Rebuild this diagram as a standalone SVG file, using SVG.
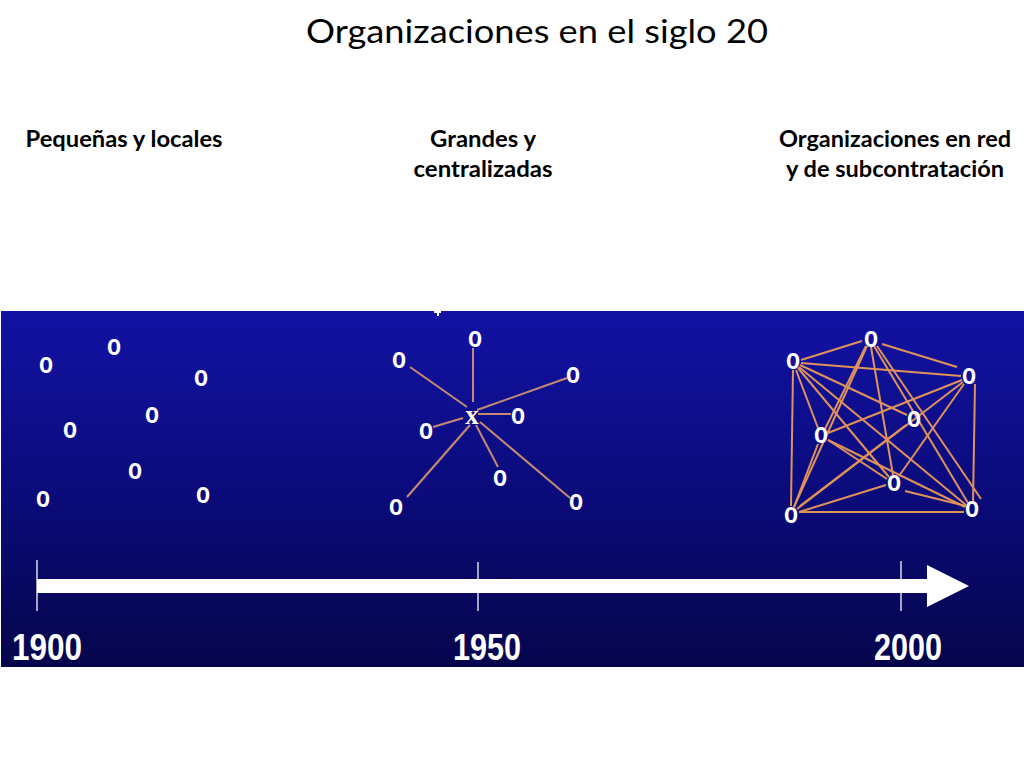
<svg xmlns="http://www.w3.org/2000/svg" width="1024" height="768" viewBox="0 0 1024 768">
<defs>
<linearGradient id="bg" x1="0" y1="0" x2="0" y2="1">
<stop offset="0" stop-color="#1212a4"/>
<stop offset="0.5" stop-color="#0b0b7c"/>
<stop offset="1" stop-color="#05054c"/>
</linearGradient>
<style>
.title{font-family:Lato,"Liberation Sans",sans-serif;font-size:32px;fill:#000;text-anchor:middle}
.lbl{font-family:Lato,"Liberation Sans",sans-serif;font-weight:bold;font-size:23px;fill:#000;text-anchor:middle}
.o{font-family:"Liberation Sans",sans-serif;font-weight:bold;font-size:23px;fill:#fff;text-anchor:middle}
.x{font-family:"Liberation Serif",serif;font-weight:bold;font-size:27px;fill:#fff6e8;text-anchor:middle}
.yr{font-family:"Liberation Sans",sans-serif;font-weight:bold;font-size:37px;fill:#fff;text-anchor:middle}
.star line{stroke:#c58a70;stroke-width:2}
.net line{stroke:#e0925a;stroke-width:2}
.tick{stroke:#d8d8e8;stroke-width:1.5}
</style>
</defs>
<rect x="0" y="0" width="1024" height="768" fill="#fff"/>
<rect x="1" y="311" width="1023" height="356" fill="url(#bg)"/>
<path d="M434 311h7v2h-2v3h-2v-3h-3z" fill="#fff"/>

<text class="title" x="537" y="43" textLength="462" lengthAdjust="spacingAndGlyphs">Organizaciones en el siglo 20</text>
<g id="lbl-1900"><text class="lbl" x="124" y="147" textLength="197" lengthAdjust="spacingAndGlyphs">Pequeñas y locales</text></g>
<g id="lbl-1950"><text class="lbl" x="483" y="147" textLength="106" lengthAdjust="spacingAndGlyphs">Grandes y</text>
<text class="lbl" x="483" y="177" textLength="139" lengthAdjust="spacingAndGlyphs">centralizadas</text></g>
<g id="lbl-2000"><text class="lbl" x="895" y="147" textLength="232" lengthAdjust="spacingAndGlyphs">Organizaciones en red</text>
<text class="lbl" x="895" y="177" textLength="218" lengthAdjust="spacingAndGlyphs">y de subcontratación</text></g>

<g id="connectors">
<g class="star">
<line x1="473" y1="348" x2="473" y2="402"/>
<line x1="410" y1="367" x2="467" y2="407"/>
<line x1="567" y1="378" x2="477" y2="410"/>
<line x1="478" y1="414" x2="511" y2="414"/>
<line x1="433" y1="427" x2="463" y2="418"/>
<line x1="476" y1="425" x2="498" y2="467"/>
<line x1="470" y1="425" x2="407" y2="497"/>
<line x1="480" y1="422" x2="570" y2="498"/>
</g>
<g class="net">
<line x1="862" y1="341" x2="801" y2="360"/>
<line x1="882" y1="344" x2="957" y2="367"/>
<line x1="866" y1="346" x2="825" y2="429"/>
<line x1="867" y1="346" x2="794" y2="507"/>
<line x1="871" y1="347" x2="893" y2="475"/>
<line x1="874" y1="346" x2="968" y2="503"/>
<line x1="877" y1="346" x2="981" y2="499"/>
<line x1="801" y1="363" x2="961" y2="376"/>
<line x1="800" y1="365" x2="907" y2="415"/>
<line x1="796" y1="370" x2="818" y2="428"/>
<line x1="798" y1="368" x2="889" y2="477"/>
<line x1="799" y1="367" x2="966" y2="505"/>
<line x1="793" y1="370" x2="791" y2="506"/>
<line x1="962" y1="380" x2="828" y2="433"/>
<line x1="963" y1="382" x2="797" y2="509"/>
<line x1="964" y1="384" x2="899" y2="476"/>
<line x1="975" y1="384" x2="973" y2="503"/>
<line x1="906" y1="425" x2="800" y2="506"/>
<line x1="828" y1="440" x2="887" y2="479"/>
<line x1="828" y1="440" x2="965" y2="507"/>
<line x1="818" y1="444" x2="794" y2="507"/>
<line x1="886" y1="485" x2="799" y2="512"/>
<line x1="905" y1="491" x2="966" y2="506"/>
<line x1="799" y1="512" x2="964" y2="512"/>
</g>
</g>

<g id="small-nodes">
<g id="s1"><text class="o" transform="translate(46,365) scale(1,1.25)" y="6">o</text></g>
<g id="s2"><text class="o" transform="translate(114,347) scale(1,1.25)" y="6">o</text></g>
<g id="s3"><text class="o" transform="translate(201,378) scale(1,1.25)" y="6">o</text></g>
<g id="s4"><text class="o" transform="translate(152,415) scale(1,1.25)" y="6">o</text></g>
<g id="s5"><text class="o" transform="translate(70,430) scale(1,1.25)" y="6">o</text></g>
<g id="s6"><text class="o" transform="translate(135,471) scale(1,1.25)" y="6">o</text></g>
<g id="s7"><text class="o" transform="translate(43,499) scale(1,1.25)" y="6">o</text></g>
<g id="s8"><text class="o" transform="translate(203,495) scale(1,1.25)" y="6">o</text></g>
</g>

<g id="star-nodes">
<g id="c0"><text class="x" x="472" y="424">x</text></g>
<g id="c1"><text class="o" transform="translate(475,339) scale(1,1.25)" y="6">o</text></g>
<g id="c2"><text class="o" transform="translate(399,360) scale(1,1.25)" y="6">o</text></g>
<g id="c3"><text class="o" transform="translate(573,375) scale(1,1.25)" y="6">o</text></g>
<g id="c4"><text class="o" transform="translate(518,416) scale(1,1.25)" y="6">o</text></g>
<g id="c5"><text class="o" transform="translate(426,431) scale(1,1.25)" y="6">o</text></g>
<g id="c6"><text class="o" transform="translate(500,478) scale(1,1.25)" y="6">o</text></g>
<g id="c7"><text class="o" transform="translate(396,507) scale(1,1.25)" y="6">o</text></g>
<g id="c8"><text class="o" transform="translate(576,502) scale(1,1.25)" y="6">o</text></g>
</g>

<g id="net-nodes">
<g id="nA"><text class="o" transform="translate(871,339) scale(1,1.25)" y="6">o</text></g>
<g id="nB"><text class="o" transform="translate(793,361) scale(1,1.25)" y="6">o</text></g>
<g id="nC"><text class="o" transform="translate(969,376) scale(1,1.25)" y="6">o</text></g>
<g id="nD"><text class="o" transform="translate(914,419) scale(1,1.25)" y="6">o</text></g>
<g id="nE"><text class="o" transform="translate(821,435) scale(1,1.25)" y="6">o</text></g>
<g id="nF"><text class="o" transform="translate(894,483) scale(1,1.25)" y="6">o</text></g>
<g id="nG"><text class="o" transform="translate(972,509) scale(1,1.25)" y="6">o</text></g>
<g id="nH"><text class="o" transform="translate(791,515) scale(1,1.25)" y="6">o</text></g>
</g>

<g id="timeline">
<line class="tick" x1="37" y1="560" x2="37" y2="611"/>
<line class="tick" x1="478" y1="562" x2="478" y2="611"/>
<line class="tick" x1="901" y1="561" x2="901" y2="611"/>
<rect x="37" y="579" width="891" height="14" fill="#fff"/>
<polygon points="927,565 969,586 927,607" fill="#fff"/>
<text class="yr" x="47" y="660" textLength="70" lengthAdjust="spacingAndGlyphs">1900</text>
<text class="yr" x="487" y="660" textLength="68" lengthAdjust="spacingAndGlyphs">1950</text>
<text class="yr" x="908" y="660" textLength="68" lengthAdjust="spacingAndGlyphs">2000</text>
</g>
</svg>
